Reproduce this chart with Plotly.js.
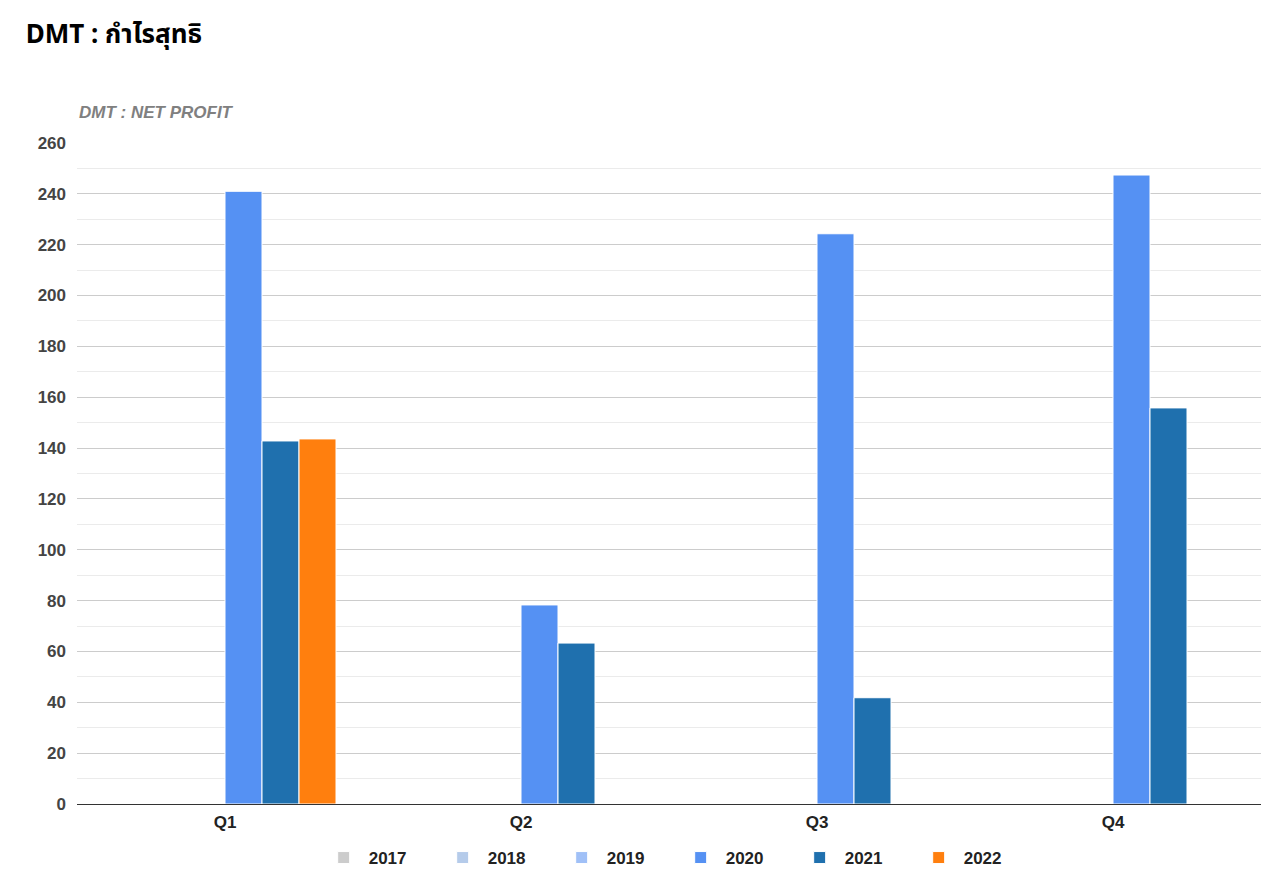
<!DOCTYPE html>
<html>
<head>
<meta charset="utf-8">
<script src="https://cdn.plot.ly/plotly-3.0.1.min.js"></script>
<style>
html,body{margin:0;padding:0;background:#fff;}
#chart{width:1287px;height:880px;}
</style>
</head>
<body>
<div id="chart"></div>
<script>
const categories = ["Q1", "Q2", "Q3", "Q4"];
const years = ["2017", "2018", "2019", "2020", "2021", "2022"];
const v2017 = [null, null, null, null];
const v2018 = [null, null, null, null];
const v2019 = [null, null, null, null];
const v2020 = [241, 78.3, 224.3, 247.4];
const v2021 = [142.8, 63.3, 41.8, 155.8];
const v2022 = [143.6, null, null, null];
const seriesValues = [v2017, v2018, v2019, v2020, v2021, v2022];
const colors = ["#cccccc", "#b5cbea", "#a0c0f7", "#5591f3", "#1f70ae", "#ff7f0e"];

const traces = years.map((y, i) => ({
  type: "bar",
  name: y,
  x: categories,
  y: seriesValues[i],
  marker: {color: colors[i], line: {color: "#ffffff", width: 1}},
  hoverinfo: "x+y+name"
}));

const layout = {
  width: 1287,
  height: 880,
  paper_bgcolor: "#ffffff",
  plot_bgcolor: "#ffffff",
  margin: {l: 77, r: 26, t: 143, b: 76},
  barmode: "group",
  bargap: 0.25,
  bargroupgap: 0,
  title: {
    text: "<b>DMT : กำไรสุทธิ</b>",
    xref: "container", x: 0.02, xanchor: "left",
    yref: "container", y: 0.962, yanchor: "middle",
    font: {family: "Noto Sans, Noto Sans Thai, sans-serif", size: 26, color: "#000000"}
  },
  font: {family: "Liberation Sans, Arial, sans-serif", color: "#444444"},
  xaxis: {
    type: "category",
    showgrid: false,
    showline: false,
    ticks: "",
    tickfont: {family: "Liberation Sans, Arial, sans-serif", size: 17, color: "#222222", weight: "bold"},
    ticklabelstandoff: 6
  },
  yaxis: {
    range: [0, 260],
    dtick: 20,
    tick0: 0,
    showgrid: true,
    gridcolor: "#cccccc",
    gridwidth: 1,
    minor: {dtick: 10, showgrid: true, gridcolor: "#ebebeb", gridwidth: 1},
    zeroline: true,
    zerolinecolor: "#333333",
    zerolinewidth: 1,
    showline: false,
    ticks: "",
    tickfont: {family: "Liberation Sans, Arial, sans-serif", size: 17, color: "#444444", weight: "bold"},
    ticklabelstandoff: 10
  },
  legend: {
    orientation: "h",
    xref: "container", x: 0.525, xanchor: "center",
    yref: "container", y: 0.025, yanchor: "middle",
    font: {family: "Liberation Sans, Arial, sans-serif", size: 17, color: "#222222", weight: "bold"},
    itemwidth: 40,
    entrywidth: 64,
    traceorder: "normal"
  },
  annotations: [{
    text: "<b><i>DMT : NET PROFIT</i></b>",
    xref: "paper", yref: "paper",
    x: 0, xanchor: "left",
    y: 1.046, yanchor: "middle",
    showarrow: false,
    font: {family: "Liberation Sans, Arial, sans-serif", size: 17, color: "#808080"}
  }],
  showlegend: true
};

Plotly.newPlot("chart", traces, layout, {displayModeBar: false, responsive: false});
</script>
</body>
</html>
